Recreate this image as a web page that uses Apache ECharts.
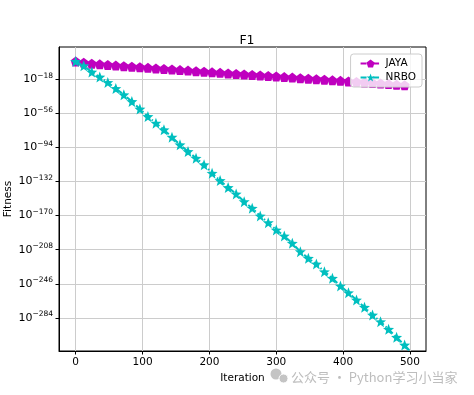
<!DOCTYPE html>
<html><head><meta charset="utf-8">
<script src="https://cdn.jsdelivr.net/npm/echarts@6/dist/echarts.min.js"></script>
<style>html,body{margin:0;padding:0;background:#fff}#c{width:474px;height:395px}</style>
</head><body><div id="c"></div>
<script>
// Iterations at which markers are drawn (plus final iteration)
const iterations = [0,12,24,36,48,60,72,84,96,108,120,132,144,156,168,180,192,204,216,228,240,252,264,276,288,300,312,324,336,348,360,372,384,396,408,420,432,444,456,468,480,492,499];
// Fitness values as base-10 exponents (log10 of fitness)
const jayaLog10 = [1.6,0.2,-0.9,-1.6,-2.3,-3.0,-3.6,-4.3,-4.9,-5.5,-6.2,-6.8,-7.4,-8.0,-8.6,-9.2,-9.8,-10.5,-11.1,-11.7,-12.3,-12.9,-13.4,-14.0,-14.6,-15.2,-15.8,-16.4,-17.0,-17.6,-18.2,-18.8,-19.4,-20.0,-20.6,-21.2,-21.8,-22.4,-23.0,-23.6,-24.2,-24.8,-25.3];
const nrboLog10 = [1.6,-3.2,-10.2,-15.8,-21.8,-28.5,-35.5,-43.0,-51.4,-59.7,-67.1,-74.5,-82.7,-91.2,-98.7,-106.1,-113.5,-122.8,-131.0,-138.8,-145.9,-154.5,-161.8,-170.4,-177.9,-186.0,-192.7,-200.8,-210.2,-217.6,-223.9,-232.5,-239.8,-248.4,-255.9,-264.0,-272.2,-280.8,-288.2,-296.7,-305.6,-314.2,-320.0];
const xTicks = [0,100,200,300,400,500];
const yTicks = [-18,-56,-94,-132,-170,-208,-246,-284];

function starPath(){
  const pts=[];
  for(let i=0;i<10;i++){
    const r = i%2===0 ? 1 : 0.42;
    const a = -Math.PI/2 + i*Math.PI/5;
    pts.push((r*Math.cos(a)).toFixed(3)+','+(r*Math.sin(a)).toFixed(3));
  }
  return 'path://M'+pts.join(' L')+' Z';
}
function pentPath(){
  const pts=[];
  for(let i=0;i<5;i++){
    const a = -Math.PI/2 + i*2*Math.PI/5;
    pts.push((Math.cos(a)).toFixed(3)+','+(Math.sin(a)).toFixed(3));
  }
  return 'path://M'+pts.join(' L')+' Z';
}
function build(vals){
  return iterations.map((it,i)=>{
    const d = {value:[it, vals[i]]};
    if(i===iterations.length-1) d.symbol='none';
    return d;
  });
}
const FONT = 'DejaVu Sans';
const chart = echarts.init(document.getElementById('c'), null, {renderer:'canvas'});
chart.setOption({
  animation:false,
  backgroundColor:'#ffffff',
  title:{text:'F1', left:242, top:29, textAlign:'center',
    textStyle:{fontFamily:FONT, fontSize:12.5, fontWeight:'normal', color:'#000'}},
  grid:{left:59, top:47, right:48, bottom:44, containLabel:false, outerBoundsMode:'none',
    show:true, borderColor:'#000', borderWidth:1, backgroundColor:'transparent'},
  legend:{
    orient:'vertical', right:52, top:54, padding:[4,6,4,9], itemGap:3,
    itemWidth:20, itemHeight:10,
    backgroundColor:'rgba(255,255,255,0.8)', borderColor:'#cccccc', borderWidth:1, borderRadius:3,
    textStyle:{fontFamily:FONT, fontSize:10.5, color:'#000'},
    data:['JAYA','NRBO']
  },
  xAxis:{
    type:'value', min:-25, max:524,
    name:'Iteration', nameLocation:'middle', nameGap:22, nameMoveOverlap:false,
    nameTextStyle:{fontFamily:FONT, fontSize:10.5, color:'#000'},
    axisLine:{onZero:false, lineStyle:{color:'#000', width:1}},
    axisTick:{show:true, length:3.5, customValues:xTicks, lineStyle:{color:'#000'}},
    axisLabel:{customValues:xTicks, margin:6, fontFamily:FONT, fontSize:10.5, color:'#000'},
    splitLine:{show:true, lineStyle:{color:'#cccccc', width:1}}
  },
  yAxis:{
    type:'value', min:-320.8, max:17.7,
    name:'Fitness', nameLocation:'middle', nameGap:45, nameMoveOverlap:false,
    nameTextStyle:{fontFamily:FONT, fontSize:10.5, color:'#000'},
    axisLine:{show:true, onZero:false, lineStyle:{color:'#000', width:1}},
    axisTick:{show:true, length:3.5, customValues:yTicks, lineStyle:{color:'#000'}},
    axisLabel:{customValues:yTicks, margin:6, fontFamily:FONT, color:'#000',
      formatter:v=>'{b|10}{s|'+(v<0?'\u2212':'')+Math.abs(Math.round(v))+'}',
      rich:{b:{fontFamily:FONT, fontSize:11, color:'#000', lineHeight:15},
            s:{fontFamily:FONT, fontSize:7.5, color:'#000', verticalAlign:'top', lineHeight:15, padding:[0,0,6,0]}}},
    splitLine:{show:true, lineStyle:{color:'#cccccc', width:1}}
  },
  graphic:[
    {type:'circle', shape:{cx:276, cy:374, r:5.5}, style:{fill:'#c4c4c4'}, z:10},
    {type:'circle', shape:{cx:283.5, cy:378.5, r:4.5}, style:{fill:'#c4c4c4', stroke:'#fff', lineWidth:1}, z:10},
    {type:'text', x:291, y:377, style:{text:'公众号 · Python学习小当家', fontFamily:'Noto Sans CJK SC', fontSize:13, fill:'#bdbdbd', textVerticalAlign:'middle'}, z:10}
  ],
  series:[
    {name:'JAYA', type:'line', data:build(jayaLog10), color:'#bf00bf',
     symbol:pentPath(), symbolSize:[10,10], showAllSymbol:true,
     lineStyle:{width:2, type:[6,2.5,1.5,2.5]}, itemStyle:{color:'#bf00bf'}, z:2},
    {name:'NRBO', type:'line', data:build(nrboLog10), color:'#00bfbf',
     symbol:starPath(), symbolSize:[11,11], showAllSymbol:true,
     lineStyle:{width:2, type:[6,2.5,1.5,2.5]}, itemStyle:{color:'#00bfbf'}, z:3}
  ]
});
</script></body></html>
